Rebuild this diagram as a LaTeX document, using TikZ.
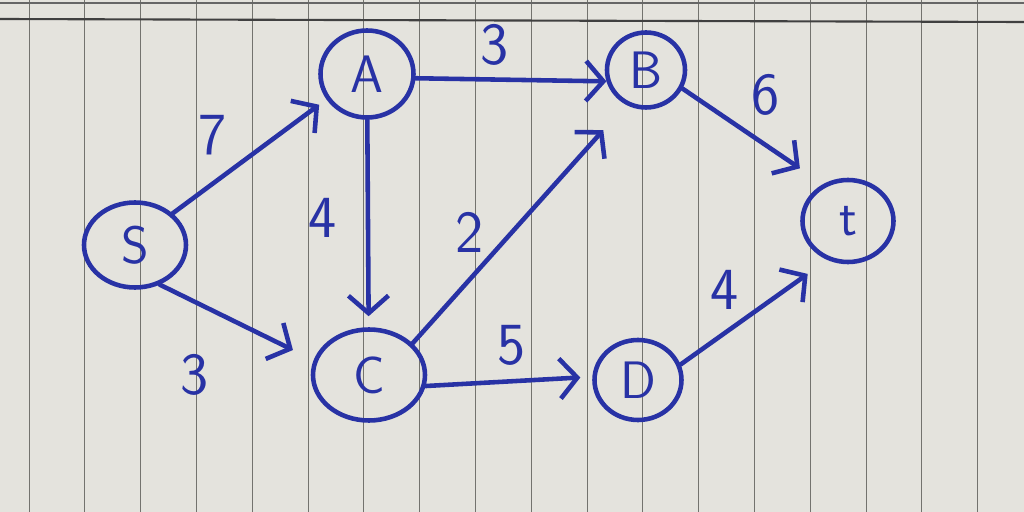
\documentclass[tikz,border=0pt]{standalone}
\usepackage{tikz}
\usetikzlibrary{shapes.geometric, arrows.meta}
\definecolor{ink}{RGB}{40,50,165}
\definecolor{paper}{RGB}{228,227,221}
\definecolor{ruling}{RGB}{115,115,110}
\tikzstyle{vertex} = [ellipse, draw=ink, line width=2.6pt, inner sep=0pt, text=ink, font=\sffamily\fontsize{30}{36}\selectfont]
\tikzstyle{weight} = [text=ink, font=\sffamily\fontsize{34}{40}\selectfont]
\tikzstyle{arrow} = [draw=ink, line width=2.6pt, line cap=round, -{Straight Barb[length=3.5mm, width=8mm]}]

\begin{document}
\begin{tikzpicture}[node distance=5cm]

% The sheet of lined paper
\fill[paper] (0,0) rectangle (20.48,10.24);
\useasboundingbox (0,0) rectangle (20.48,10.24);
\foreach \x in {0,...,17}
  \draw[ruling, line width=0.5pt] (0.58+1.116*\x,0) -- (0.58+1.116*\x,10.24);
\draw[black!75, line width=1.2pt] (0,9.86) -- (20.48,9.80);
\draw[black!60, line width=1pt] (0,10.18) -- (20.48,10.18);

% Vertices
\node (nodeS) [vertex, minimum width=2.04cm, minimum height=1.70cm] at (2.70,5.34) {S};
\node (nodeA) [vertex, minimum width=1.86cm, minimum height=1.74cm, right of=nodeS, xshift=-0.36cm, yshift=3.42cm] {A};
\node (nodeC) [vertex, minimum width=2.24cm, minimum height=1.82cm, right of=nodeS, xshift=-0.32cm, yshift=-2.60cm] {C};
\node (nodeB) [vertex, minimum width=1.56cm, minimum height=1.50cm, right of=nodeA, xshift=0.58cm, yshift=0.08cm] {B};
\node (nodeD) [vertex, minimum width=1.74cm, minimum height=1.60cm, right of=nodeC, xshift=0.38cm, yshift=-0.10cm] {D};
\node (nodeT) [vertex, minimum width=1.82cm, minimum height=1.64cm, right of=nodeB, xshift=-0.96cm, yshift=-3.02cm] {t};

% Edges
\draw [arrow, shorten >=0.18cm] (nodeS.40) -- (nodeA.212);
\draw [arrow, shorten >=0.46cm] (nodeS.-58) -- (nodeC.165);
\draw [arrow, shorten >=0.22cm] (nodeA) -- (nodeC);
\draw [arrow] (nodeA.-5) -- (nodeB.196);
\draw [arrow, shorten >=0.68cm] (nodeC.36) -- (nodeB.240);
\draw [arrow, shorten >=0.24cm] (nodeC.-11) -- (nodeD.176);
\draw [arrow, shorten >=0.56cm] (nodeB.-27) -- (nodeT.124);
\draw [arrow, shorten >=0.48cm] (nodeD.20) -- (nodeT.-118);

% Capacities
\node (wSA) [weight] at (4.26,7.54) {7};
\node (wSC) [weight] at (3.90,2.74) {3};
\node (wAC) [weight] at (6.46,5.88) {4};
\node (wAB) [weight] at (9.90,9.34) {3};
\node (wCB) [weight] at (9.40,5.60) {2};
\node (wCD) [weight] at (10.24,3.34) {5};
\node (wBT) [weight] at (15.32,8.34) {6};
\node (wDT) [weight] at (14.50,4.44) {4};

\end{tikzpicture}
\end{document}
